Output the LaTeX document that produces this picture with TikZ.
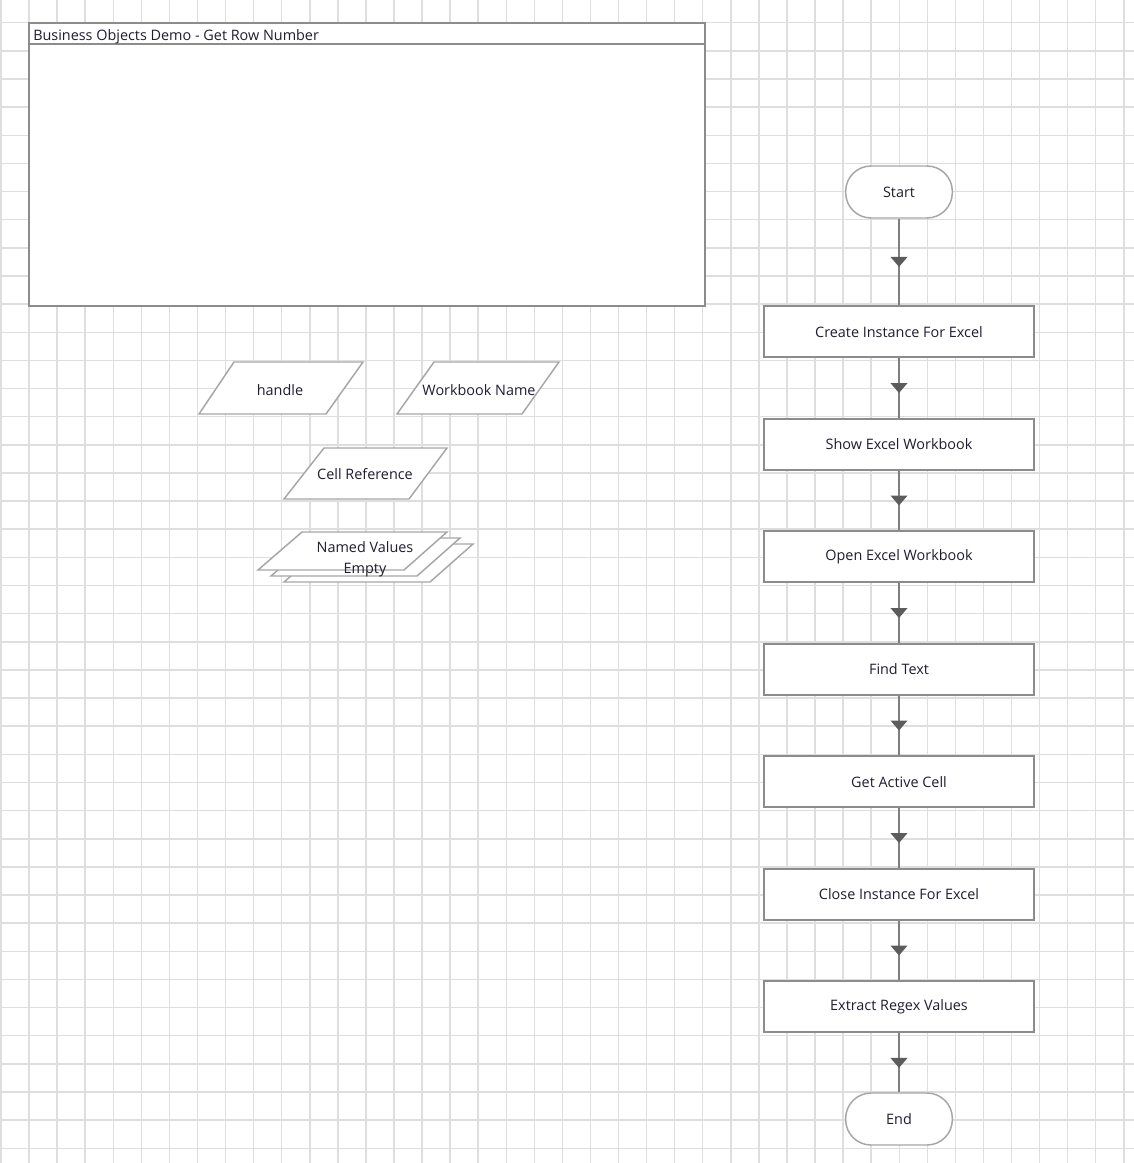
\documentclass[tikz,border=0pt]{standalone}
\usepackage{fontspec}
\setmainfont{Open Sans}
\usetikzlibrary{arrows.meta, decorations.markings}

\definecolor{gridgray}{HTML}{DEDEDE}
\definecolor{edgegray}{HTML}{8C8C8C}
\definecolor{softgray}{HTML}{A6A6A6}
\definecolor{flowgray}{HTML}{7F7F7F}
\definecolor{tipgray}{HTML}{5C5C5C}
\definecolor{inkblue}{HTML}{1E1E32}

\begin{document}
\begin{tikzpicture}[x=0.75pt, y=-0.75pt, font=\fontsize{10.8}{13}\selectfont, text=inkblue,
  gridline/.style={draw=gridgray, line width=1.1pt},
  frame/.style={draw=edgegray, line width=1.5pt, fill=white},
  stage/.style={draw=edgegray, line width=1.5pt, fill=white, minimum width=203pt, minimum height=38.6pt, inner sep=0pt},
  terminal/.style={draw=softgray, line width=1.1pt, fill=white, rounded corners=19pt, minimum width=80pt, minimum height=39pt, inner sep=0pt},
  dataedge/.style={draw=softgray, line width=1.1pt, fill=white},
  flow/.style={draw=flowgray, line width=1.5pt, postaction={decorate},
    decoration={markings, mark=at position 0.5 with {\arrow[xshift=3.75pt]{Triangle[width=12.5pt, length=7.5pt, color=tipgray]}}}}]
\useasboundingbox (0,0) rectangle (1134,1163);
\fill[white] (0,0) rectangle (1134,1163);
% Grid
\foreach \i in {0,...,40} {
  \draw[gridline] (1+28.07*\i,0) -- (1+28.07*\i,1163);
  \draw[gridline] (0,22.7+28.14*\i) -- (1134,22.7+28.14*\i);
}
% Page frame
\draw[frame] (29,23) rectangle (705,306);
\draw[frame] (29,44) -- (705,44);
\node (title) [anchor=base west, inner sep=0pt] at (33,40.5) {Business Objects Demo - Get Row Number};
% Data items
\draw[dataedge] (234,362) -- (363,362) -- (326,414) -- (199,414) -- cycle;
\node (handle) at (280,390) {handle};
\draw[dataedge] (434,362) -- (559,362) -- (522,414) -- (397,414) -- cycle;
\node (wbname) at (479,390) {Workbook Name};
\draw[dataedge] (324,448) -- (447,448) -- (409,499) -- (284,499) -- cycle;
\node (cellref) at (365,474) {Cell Reference};
% Collection
\foreach \d in {26,13,0}
  \draw[dataedge, shift={(\d,\d*6/13)}] (302,532) -- (447,532) -- (404,570) -- (258,570) -- cycle;
\node (named) [align=center, font=\fontsize{10.8}{15.75}\selectfont] at (365,559.5) {Named Values\\Empty};
% Flow
\node (start) [terminal] at (899,192) {Start};
\node (create) [stage] at (899,331.75) {Create Instance For Excel};
\node (show) [stage] at (899,444.25) {Show Excel Workbook};
\node (open) [stage] at (899,556.75) {Open Excel Workbook};
\node (find) [stage] at (899,669.25) {Find Text};
\node (active) [stage] at (899,781.75) {Get Active Cell};
\node (close) [stage] at (899,894.25) {Close Instance For Excel};
\node (extract) [stage] at (899,1006.75) {Extract Regex Values};
\node (finish) [terminal] at (899,1119) {End};
\foreach \a/\b in {start/create, create/show, show/open, open/find, find/active, active/close, close/extract, extract/finish}
  \draw[flow] (\a) -- (\b);
\end{tikzpicture}
\end{document}
